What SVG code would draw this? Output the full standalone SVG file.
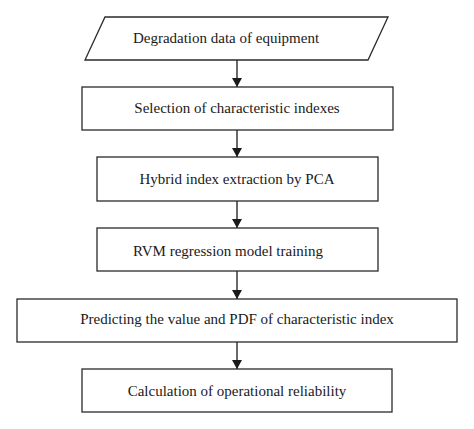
<svg xmlns="http://www.w3.org/2000/svg" width="474" height="429" viewBox="0 0 474 429">
<defs>
<marker id="ah" markerWidth="10" markerHeight="10" refX="9" refY="5" orient="auto" markerUnits="userSpaceOnUse">
<path d="M0,0 L9,5 L0,10 Z" fill="#1a1a1a"/>
</marker>
</defs>
<style>
.box{fill:#ffffff;stroke:#2a2a2a;stroke-width:1.3}
.lbl{font-family:"Liberation Serif","Times New Roman",serif;font-size:15px;fill:#1a1a1a;text-anchor:middle}
.conn{stroke:#1a1a1a;stroke-width:1.3;fill:none}
</style>
<rect width="474" height="429" fill="#ffffff"/>
<g id="connectors">
<line class="conn" x1="237" y1="60" x2="237" y2="87" marker-end="url(#ah)"/>
<line class="conn" x1="237" y1="130" x2="237" y2="157" marker-end="url(#ah)"/>
<line class="conn" x1="237" y1="201" x2="237" y2="228" marker-end="url(#ah)"/>
<line class="conn" x1="237" y1="271" x2="237" y2="299" marker-end="url(#ah)"/>
<line class="conn" x1="237" y1="342" x2="237" y2="369" marker-end="url(#ah)"/>
</g>
<g id="n1">
<polygon class="box" points="105,17 388,17 368,60 85,60"/>
<text class="lbl" x="226" y="43">Degradation data of equipment</text>
</g>
<g id="n2">
<rect class="box" x="82" y="87" width="311" height="43"/>
<text class="lbl" x="237" y="113">Selection of characteristic indexes</text>
</g>
<g id="n3">
<rect class="box" x="97" y="157" width="281" height="44"/>
<text class="lbl" x="237" y="184">Hybrid index extraction by PCA</text>
</g>
<g id="n4">
<rect class="box" x="97" y="228" width="281" height="43"/>
<text class="lbl" x="228" y="256">RVM regression model training</text>
</g>
<g id="n5">
<rect class="box" x="17" y="299" width="440" height="43"/>
<text class="lbl" x="237" y="324">Predicting the value and PDF of characteristic index</text>
</g>
<g id="n6">
<rect class="box" x="82" y="369" width="310" height="43"/>
<text class="lbl" x="237" y="396">Calculation of operational reliability</text>
</g>
</svg>
